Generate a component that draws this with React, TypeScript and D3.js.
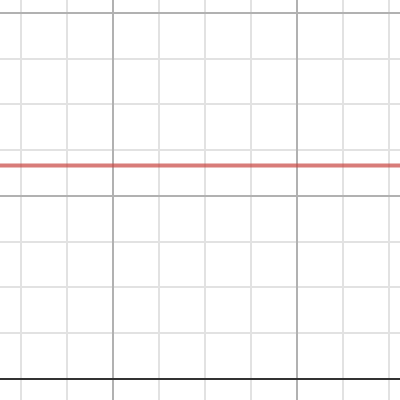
import React, { useEffect, useRef } from 'react';
import * as d3 from 'd3';

// viewport of the graph (math units)
const xDomain = [0.772, 5.12];
const yDomain = [-0.23, 4.142];

// grid spacing
const minorStep = 0.5;
const majorStep = 2;

// the plotted function y = c
const lineXs = [0.772, 5.12];
const lineYs = [2.333, 2.333];

export default function App() {
  const svgRef = useRef<SVGSVGElement>(null);

  useEffect(() => {
    if (!svgRef.current) return;
    const svg = d3.select(svgRef.current);
    svg.selectAll('*').remove();

    const width = 400;
    const height = 400;

    const x = d3.scaleLinear().domain(xDomain).range([0, width]);
    const y = d3.scaleLinear().domain(yDomain).range([height, 0]);

    const ticksIn = (lo: number, hi: number, step: number) =>
      d3.range(Math.ceil(lo / step) * step, hi, step);

    const isMajor = (v: number) => Math.abs(v / majorStep - Math.round(v / majorStep)) < 1e-6;

    const xMinor = ticksIn(xDomain[0], xDomain[1], minorStep).filter(v => !isMajor(v));
    const yMinor = ticksIn(yDomain[0], yDomain[1], minorStep).filter(v => !isMajor(v));
    const xMajor = ticksIn(xDomain[0], xDomain[1], majorStep).filter(v => Math.abs(v) > 1e-6);
    const yMajor = ticksIn(yDomain[0], yDomain[1], majorStep).filter(v => Math.abs(v) > 1e-6);

    svg.append('rect').attr('width', width).attr('height', height).attr('fill', '#fff');

    const grid = svg.append('g').attr('shape-rendering', 'crispEdges');

    // minor grid
    grid.selectAll('.vminor').data(xMinor).enter().append('line')
      .attr('x1', d => x(d)).attr('x2', d => x(d))
      .attr('y1', 0).attr('y2', height)
      .attr('stroke', '#e2e2e2').attr('stroke-width', 2);
    grid.selectAll('.hminor').data(yMinor).enter().append('line')
      .attr('y1', d => y(d)).attr('y2', d => y(d))
      .attr('x1', 0).attr('x2', width)
      .attr('stroke', '#e2e2e2').attr('stroke-width', 2);

    // major grid
    grid.selectAll('.vmajor').data(xMajor).enter().append('line')
      .attr('x1', d => x(d)).attr('x2', d => x(d))
      .attr('y1', 0).attr('y2', height)
      .attr('stroke', '#b1b1b1').attr('stroke-width', 2);
    grid.selectAll('.hmajor').data(yMajor).enter().append('line')
      .attr('y1', d => y(d)).attr('y2', d => y(d))
      .attr('x1', 0).attr('x2', width)
      .attr('stroke', '#b1b1b1').attr('stroke-width', 2);

    // x axis (y = 0)
    grid.append('line')
      .attr('x1', 0).attr('x2', width)
      .attr('y1', y(0)).attr('y2', y(0))
      .attr('stroke', '#333').attr('stroke-width', 2);

    // function line
    const line = d3.line<number>()
      .x((_, i) => x(lineXs[i]))
      .y(d => y(d));

    svg.append('path')
      .datum(lineYs)
      .attr('fill', 'none')
      .attr('stroke', '#c74440')
      .attr('stroke-opacity', 0.7)
      .attr('stroke-width', 4)
      .attr('d', line);
  }, []);

  return (
    <svg
      ref={svgRef}
      width={400}
      height={400}
      style={{ position: 'fixed', left: 0, top: 0, display: 'block' }}
    />
  );
}
